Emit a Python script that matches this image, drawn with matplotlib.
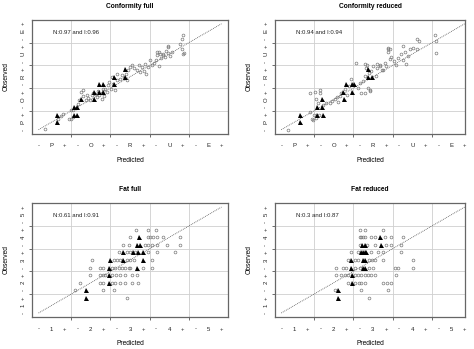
import matplotlib
matplotlib.use('Agg')
import matplotlib.pyplot as plt

plt.rcParams['font.family'] = ['Liberation Sans', 'DejaVu Sans']

# class labels along both axes (15 sub-classes)
conf_labels = ['-', 'P', '+', '-', 'O', '+', '-', 'R', '+', '-', 'U', '+', '-', 'E', '+']
fat_labels = ['-', '1', '+', '-', '2', '+', '-', '3', '+', '-', '4', '+', '-', '5', '+']
positions = list(range(1, 16))
class_bounds = [3.5, 6.5, 9.5, 12.5]

titles = ['Conformity full', 'Conformity reduced', 'Fat full', 'Fat reduced']
stats = ['N:0.97 and I:0.96', 'N:0.94 and I:0.94', 'N:0.61 and I:0.91', 'N:0.3 and I:0.87']

# --- Conformity full ---
cf_gray_x = [1.49, 2.51, 2.69, 2.90, 3.35, 3.46, 3.66, 3.87, 4.04, 4.12, 4.22, 4.38, 4.43, 4.63, 4.81,
             4.94, 5.06, 5.32, 5.45, 5.65, 5.83, 6.01, 6.11, 6.21, 6.34, 6.42, 6.52, 6.67, 6.85, 7.03,
             7.23, 7.36, 7.54, 7.69, 7.79, 7.99, 8.15, 8.30, 8.51, 8.66, 8.89, 9.07, 9.22, 9.40, 9.65,
             9.83, 9.98, 10.09, 10.24, 10.34, 10.50, 10.65, 10.75, 10.90, 11.06, 10.93, 10.24, 11.18, 11.82, 11.95,
             12.08, 12.13, 11.95, 4.68, 5.19, 5.83, 5.57, 5.96, 6.59, 6.98, 7.87, 8.76, 9.14, 9.53, 3.66,
             3.46, 10.05, 10.31, 10.56, 10.87, 12.04]
cf_gray_y = [1.11, 2.44, 2.80, 3.11, 2.44, 3.55, 3.64, 3.90, 4.44, 4.88, 5.99, 6.30, 5.41, 4.88, 5.23,
             4.97, 5.54, 5.76, 5.32, 5.54, 5.85, 5.41, 6.43, 5.99, 6.87, 7.31, 6.43, 7.00, 6.21, 7.54,
             7.76, 8.20, 7.89, 8.42, 7.54, 9.31, 9.53, 9.18, 8.95, 9.53, 9.31, 8.78, 8.42, 9.31, 9.53,
             9.84, 10.19, 10.86, 11.30, 10.42, 10.99, 10.64, 11.43, 11.08, 10.73, 11.97, 9.40, 11.30, 12.32, 12.94,
             13.52, 11.08, 11.61, 5.54, 5.85, 5.10, 6.12, 6.43, 7.98, 8.42, 8.87, 8.64, 9.75, 10.19, 2.66,
             2.45, 11.27, 11.05, 10.83, 12.03, 10.96]
cf_tri_x = [2.42, 2.42, 3.69, 3.97, 3.69, 3.97, 4.24, 5.21, 5.21, 5.63, 5.91, 5.64, 5.91, 6.80, 6.80, 7.58, 7.60]
cf_tri_y = [3, 2, 4, 4, 3, 3, 5, 6, 5, 7, 7, 6, 6, 8, 7, 9, 8]

# --- Conformity reduced ---
cr_gray_x = [1.55, 3.22, 3.55, 3.94, 3.94, 3.63, 3.81, 3.48, 3.68, 3.43, 3.17, 4.19, 4.44, 4.70, 4.90,
             5.08, 5.26, 5.46, 5.34, 5.59, 5.84, 6.02, 6.17, 6.35, 6.74, 6.86, 6.99, 7.12, 7.24, 7.37,
             7.50, 7.70, 7.55, 7.88, 8.01, 8.21, 8.31, 8.52, 8.72, 8.90, 9.03, 9.28, 9.41, 9.15, 9.33,
             9.59, 9.74, 9.92, 10.17, 10.30, 10.43, 10.55, 10.68, 10.81, 11.06, 7.75, 7.37, 9.18, 9.18, 10.32,
             11.34, 11.54, 11.34, 12.74, 12.81, 12.81, 3.32, 3.90, 7.39, 8.29, 8.54, 8.80, 7.77, 7.65]
cr_gray_y = [1.00, 5.82, 6.05, 6.27, 5.82, 5.02, 4.57, 2.92, 2.61, 2.26, 3.37, 4.26, 4.49, 4.57, 4.84,
             5.02, 5.29, 5.47, 4.71, 5.82, 6.36, 5.60, 6.72, 7.70, 9.84, 6.49, 7.16, 5.82, 7.39, 8.05,
             9.17, 8.50, 9.61, 8.72, 9.39, 8.05, 9.17, 9.61, 8.95, 9.84, 9.48, 10.28, 10.64, 11.85, 11.62,
             10.06, 9.61, 10.51, 10.95, 10.19, 11.27, 9.75, 10.73, 11.62, 11.85, 6.18, 5.82, 11.63, 11.28, 12.07,
             13.05, 12.74, 11.63, 13.50, 12.74, 11.18, 2.48, 2.90, 9.75, 9.62, 9.39, 8.95, 6.27, 6.50]
cr_tri_x = [2.43, 2.43, 3.71, 4.09, 3.71, 4.16, 4.09, 5.74, 5.79, 5.92, 6.38, 6.55, 6.38, 7.65, 7.65, 7.90]
cr_tri_y = [3, 2, 4, 4, 3, 3, 5, 6, 5, 7, 7, 7, 6, 9, 8, 8]

# --- Fat full ---
ff_gray_x = [8.47, 9.34, 10.00,
             8.01, 9.34, 9.54, 9.75, 10.05, 10.56, 11.84,
             7.50, 7.90, 9.16, 9.34, 9.67, 10.05, 10.82, 11.84,
             7.12, 7.76, 8.01, 8.40, 9.34, 10.05, 11.46,
             5.08, 6.74, 6.99, 7.25, 7.76, 8.01, 8.27, 9.67,
             4.95, 5.72, 5.97, 6.61, 6.86, 7.12, 7.38, 7.63, 7.89, 8.01, 9.03, 9.67,
             4.95, 5.67, 5.92, 6.10, 6.61, 6.94, 7.25, 7.63, 8.14, 8.57,
             4.19, 5.72, 5.97, 6.61, 6.86, 7.25, 7.63, 8.14, 8.65,
             3.81, 5.92, 6.74,
             7.76]
ff_gray_y = [12, 12, 12,
             11, 11, 11, 11, 11, 11, 11,
             10, 10, 10, 10, 10, 10, 10, 10,
             9, 9, 9, 9, 9, 9, 9,
             8, 8, 8, 8, 8, 8, 8, 8,
             7, 7, 7, 7, 7, 7, 7, 7, 7, 7, 7, 7,
             6, 6, 6, 6, 6, 6, 6, 6, 6, 6,
             5, 5, 5, 5, 5, 5, 5, 5, 5,
             4, 4, 4,
             3]
ff_tri_x = [8.70, 8.57, 8.78, 7.45, 8.22, 8.65, 8.98, 6.48, 7.45, 9.03, 6.43, 8.57, 6.36, 6.36, 4.65, 4.65]
ff_tri_y = [11, 10, 10, 9, 9, 9, 9, 8, 8, 8, 7, 7, 6, 5, 4, 3]

# --- Fat reduced ---
fr_gray_x = [6.99, 7.37, 8.77,
             6.99, 7.12, 7.24, 7.37, 7.88, 8.14, 8.90, 9.41, 10.30,
             6.99, 7.57, 8.14, 9.03, 9.41, 10.17,
             6.35, 6.86, 7.88, 8.39, 8.77, 10.12,
             6.10, 6.61, 6.86, 7.68, 7.93, 8.19, 8.77, 11.06,
             5.21, 5.72, 5.97, 6.61, 6.99, 7.68, 8.01, 9.66, 9.92, 11.06,
             5.21, 5.59, 5.84, 6.10, 6.61, 6.86, 7.12, 7.37, 7.63, 7.88, 8.14, 9.79,
             6.10, 6.66, 6.91, 7.12, 7.37, 8.77, 9.10, 9.41,
             5.08, 7.12, 9.15,
             7.68]
fr_gray_y = [12, 12, 12,
             11, 11, 11, 11, 11, 11, 11, 11, 11,
             10, 10, 10, 10, 10, 10,
             9, 9, 9, 9, 9, 9,
             8, 8, 8, 8, 8, 8, 8, 8,
             7, 7, 7, 7, 7, 7, 7, 7, 7, 7,
             6, 6, 6, 6, 6, 6, 6, 6, 6, 6, 6, 6,
             5, 5, 5, 5, 5, 5, 5, 5,
             4, 4, 4,
             3]
fr_tri_x = [8.52, 7.17, 7.37, 8.60, 7.12, 7.25, 7.37, 7.50, 6.30, 7.24, 7.42, 6.35, 7.24, 7.42, 6.40, 6.40,
            5.33, 5.33]
fr_tri_y = [11, 10, 10, 10, 9, 9, 9, 9, 8, 8, 8, 7, 7, 7, 6, 5, 4, 3]

W, H = 474, 349
fig = plt.figure(figsize=(W / 100, H / 100), dpi=100)

# axes boxes in pixels: left, top, width, height
boxes = [(32, 20, 196, 113.5), (274.7, 20, 190.6, 113.5),
         (32, 203.3, 196, 113.5), (274.7, 203.3, 190.6, 113.5)]
xmax = [15.5, 15.05, 15.5, 15.05]
panels = [(cf_gray_x, cf_gray_y, cf_tri_x, cf_tri_y, conf_labels),
          (cr_gray_x, cr_gray_y, cr_tri_x, cr_tri_y, conf_labels),
          (ff_gray_x, ff_gray_y, ff_tri_x, ff_tri_y, fat_labels),
          (fr_gray_x, fr_gray_y, fr_tri_x, fr_tri_y, fat_labels)]

for i, (gx, gy, tx, ty, labs) in enumerate(panels):
    l, t, w, h = boxes[i]
    ax = fig.add_axes([l / W, 1 - (t + h) / H, w / W, h / H])
    ax.set_xlim(0.5, xmax[i])
    ax.set_ylim(0.5, 15.5)

    # 1:1 reference line
    ax.plot([1, 15], [1, 15], ls=(0, (1, 1.2)), color='#555555', lw=0.6, zorder=2)
    ax.plot(gx, gy, 'o', ms=2.0, mfc='none', mec='#7a7a7a', mew=0.5, zorder=3)
    ax.plot(tx, ty, '^', ms=3.6, color='black', mew=0, zorder=4)

    # class boundaries: ticks + grid, no labels
    ax.set_xticks(class_bounds, labels=[])
    ax.set_yticks(class_bounds, labels=[])
    ax.grid(True, which='major', color='#cfcfcf', lw=0.6)
    ax.set_axisbelow(True)
    ax.tick_params(which='major', length=2.2, width=0.6, color='#555555')

    # sub-class labels
    ax.set_xticks(positions, labels=labs, minor=True)
    ax.set_yticks(positions, labels=labs, minor=True)
    ax.tick_params(which='minor', length=0, labelsize=4.3, colors='#222222')
    ax.tick_params(axis='x', which='minor', pad=7)
    ax.tick_params(axis='y', which='minor', pad=4.5)
    for lab in ax.get_yticklabels(minor=True):
        lab.set_rotation(90)
        lab.set_va('center')

    for s in ax.spines.values():
        s.set_color('#666666')
        s.set_linewidth(0.9)

    ax.set_xlabel('Predicted', fontsize=4.8, labelpad=6)
    ax.set_ylabel('Observed', fontsize=4.8, labelpad=8)
    ax.set_title(titles[i], fontsize=4.8, fontweight='bold', pad=8.5)
    ax.text(2.1, 13.9, stats[i], fontsize=4.3, ha='left', va='center', color='#222222')

fig.savefig('out.png', dpi=100)
